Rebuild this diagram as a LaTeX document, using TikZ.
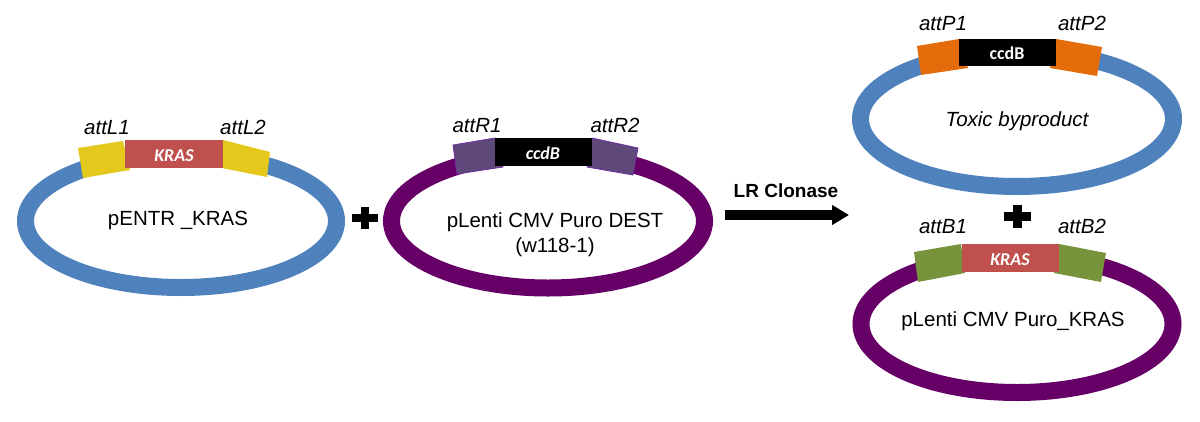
\documentclass[tikz,border=0pt]{standalone}
\usepackage{fontspec}
\setmainfont{Liberation Sans}
\newfontfamily\carlito{Carlito}
\usetikzlibrary{arrows.meta}
\definecolor{ringblue}{HTML}{4F81BD}
\definecolor{ringpurple}{HTML}{660066}
\definecolor{attyellow}{HTML}{E4C91C}
\definecolor{krasred}{HTML}{C0504D}
\definecolor{attpurple}{HTML}{5F497A}
\definecolor{attpurpleedge}{HTML}{7030A0}
\definecolor{attorange}{HTML}{E46C0A}
\definecolor{attgreen}{HTML}{77933C}
\tikzset{
  ring/.style={line width=17pt},
  lbl/.style={inner sep=0pt, anchor=base, font=\fontsize{20.5}{24}\selectfont},
  sitelbl/.style={lbl, font=\fontsize{20.5}{24}\selectfont\itshape},
  genelbl/.style={inner sep=0pt, anchor=base, text=white, font=\fontsize{18}{22}\selectfont\carlito\bfseries\itshape},
  ccdblbl/.style={inner sep=0pt, anchor=base, text=white, font=\fontsize{18}{22}\selectfont\carlito\bfseries},
  boldlbl/.style={inner sep=0pt, anchor=base, font=\fontsize{19}{23}\selectfont\bfseries},
}
\begin{document}
\begin{tikzpicture}[x=1pt,y=-1pt]
\useasboundingbox (0,0) rectangle (1200,421);

% ---------- Plasmid 1: pENTR_KRAS ----------
\coordinate (c1) at (181,221);
\draw[ring, ringblue] (c1) ellipse [x radius=155.5, y radius=66.5];
\fill[attyellow] (78,148) -- (123,141) -- (130,170) -- (83,178) -- cycle;
\fill[attyellow] (223,140) -- (270,152) -- (267,177) -- (222,168) -- cycle;
\fill[krasred] (125,140) rectangle (223,168);
\node[genelbl] (k1) at (174,161) {KRAS};
\node[sitelbl] (l1) at (107,134) {attL1};
\node[sitelbl] (l2) at (243,134) {attL2};
\node[lbl] (n1) at (178,225) {pENTR \_KRAS};

% ---------- plus 1 ----------
\fill[black] (352,214) rectangle (378,222);
\fill[black] (361,207) rectangle (369,229);

% ---------- Plasmid 2: pLenti CMV Puro DEST ----------
\coordinate (c2) at (548,221);
\draw[ring, ringpurple] (c2) ellipse [x radius=156.5, y radius=67];
\filldraw[fill=attpurple, draw=attpurpleedge, line width=0.8pt] (453,145) -- (495,138) -- (503,167) -- (457,174) -- cycle;
\filldraw[fill=attpurple, draw=attpurpleedge, line width=0.8pt] (592,138) -- (638,148) -- (633,175) -- (587,167) -- cycle;
\fill[black] (495,138) rectangle (592,166);
\node[genelbl] (cc2) at (543,159) {ccdB};
\node[sitelbl] (r1) at (477,132) {attR1};
\node[sitelbl] (r2) at (615,132) {attR2};
\node[lbl] (n2) at (555,227) {pLenti CMV Puro DEST};
\node[lbl] (n2b) at (555,252) {(w118-1)};

% ---------- Arrow ----------
\coordinate (as) at (725,215);
\coordinate (ae) at (849,215);
\draw[line width=10pt, -{Triangle[length=17pt,width=19pt]}] (as) -- (ae);
\node[boldlbl] (lr) at (786,197) {LR Clonase};

% ---------- Plasmid 3: Toxic byproduct ----------
\coordinate (c3) at (1017,119);
\draw[ring, ringblue] (c3) ellipse [x radius=156.5, y radius=67.5];
\fill[attorange] (917,46) -- (959,39) -- (968,68) -- (921,75) -- cycle;
\fill[attorange] (1056,39) -- (1102,47) -- (1097,76) -- (1050,68) -- cycle;
\fill[black] (959,39) rectangle (1056,66);
\node[ccdblbl] (cc3) at (1007,59) {ccdB};
\node[sitelbl] (p1) at (943,30) {attP1};
\node[sitelbl] (p2) at (1082,30) {attP2};
\node[lbl, font=\fontsize{20.5}{24}\selectfont\itshape] (n3) at (1017,126) {Toxic byproduct};

% ---------- plus 2 ----------
\fill[black] (1004,212) rectangle (1031,221);
\fill[black] (1013,205) rectangle (1022,228);

% ---------- Plasmid 4: pLenti CMV Puro_KRAS ----------
\coordinate (c4) at (1017,324);
\draw[ring, ringpurple] (c4) ellipse [x radius=156, y radius=68.5];
\fill[attgreen] (914,252) -- (961,244) -- (965,273) -- (918,282) -- cycle;
\fill[attgreen] (1059,244) -- (1106,253) -- (1101,282) -- (1054,273) -- cycle;
\fill[krasred] (962,244) rectangle (1059,272);
\node[genelbl] (k4) at (1010,265) {KRAS};
\node[sitelbl] (b1) at (943,233) {attB1};
\node[sitelbl] (b2) at (1082,233) {attB2};
\node[lbl] (n4) at (1013,326) {pLenti CMV Puro\_KRAS};
\end{tikzpicture}
\end{document}
